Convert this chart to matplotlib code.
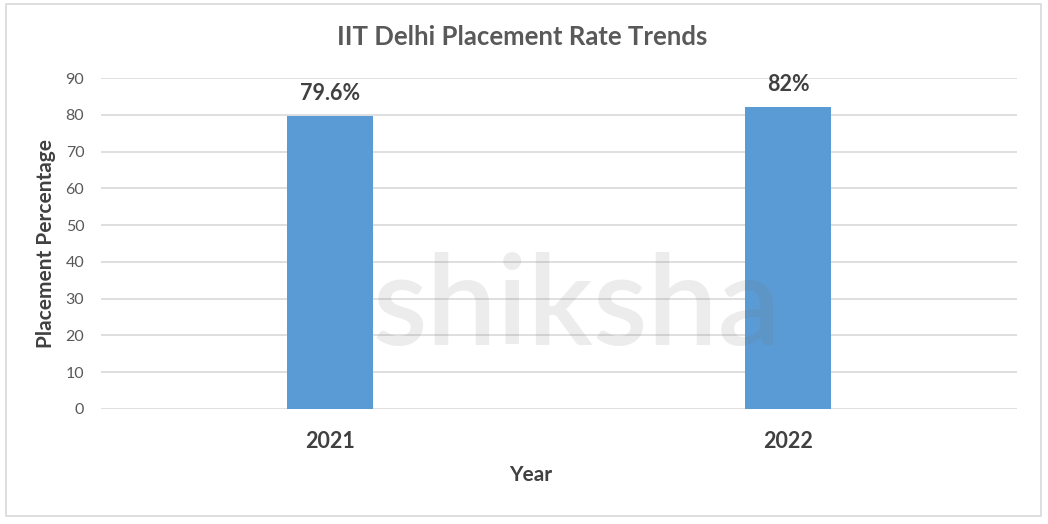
import matplotlib
matplotlib.use("Agg")
import matplotlib.pyplot as plt
from matplotlib.patches import Rectangle

plt.rcParams['font.family'] = ['Lato', 'DejaVu Sans']

years = ['2021', '2022']
rates = [79.6, 82]
labels = ['79.6%', '82%']
yticks = list(range(0, 100, 10))

fig = plt.figure(figsize=(10.48, 5.24), dpi=100)
ax = fig.add_axes([0.0964, 0.2195, 0.874, 0.6316])

x = range(len(years))
ax.bar(x, rates, width=0.188, color='#5b9bd5', zorder=3)
for xi, r, lab in zip(x, rates, labels):
    ax.text(xi, r + 3.4, lab, ha='center', va='bottom', fontsize=15.5,
            fontweight='bold', color='#404040')

# watermark, drawn faintly over everything
fig.text(0.55, 0.41, 'shiksha', fontsize=90, fontweight='semibold', color='#707070',
         alpha=0.13, ha='center', va='center', zorder=5)

ax.set_xlim(-0.5, 1.5)
ax.set_ylim(0, 90)
ax.set_yticks(yticks)
ax.yaxis.grid(True, color='#d9d9d9', linewidth=1.2)
ax.set_axisbelow(True)
for s in ax.spines.values():
    s.set_visible(False)
ax.tick_params(axis='both', length=0)
ax.tick_params(axis='y', labelsize=11.5, labelcolor='#595959', pad=12)
ax.set_xticks(list(x))
ax.set_xticklabels(years, fontsize=15.5, fontweight='bold', color='#404040')
ax.tick_params(axis='x', pad=16)

ax.set_xlabel('Year', fontsize=15, fontweight='bold', color='#404040')
ax.xaxis.set_label_coords(0.469, -0.17)
ax.set_ylabel('Placement Percentage', fontsize=15, fontweight='bold', color='#404040', labelpad=7)
fig.text(0.498, 0.93, 'IIT Delhi Placement Rate Trends', ha='center', va='center',
         fontsize=18.5, fontweight='bold', color='#595959')

fig.patches.append(Rectangle((0.006, 0.015), 0.987, 0.977, transform=fig.transFigure,
                             fill=False, edgecolor='#d9d9d9', linewidth=1.2))

fig.savefig('out.png', dpi=100, facecolor='white')
